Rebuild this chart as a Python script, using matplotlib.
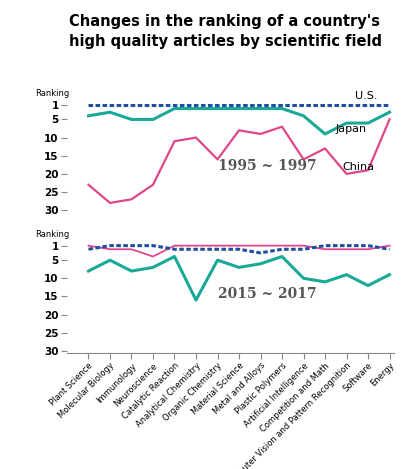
import matplotlib.pyplot as plt

fields = ['Plant Science', 'Molecular Biology', 'Immunology', 'Neuroscience',
          'Catalytic Reaction', 'Analytical Chemistry', 'Organic Chemistry',
          'Material Science', 'Metal and Alloys', 'Plastic Polymers',
          'Artificial Intelligence', 'Competition and Math',
          'Computer Vision and Pattern Recognition', 'Software', 'Energy']
us_9597 = [1] * 15
japan_9597 = [4, 3, 5, 5, 2, 2, 2, 2, 2, 2, 4, 9, 6, 6, 3]
china_9597 = [23, 28, 27, 23, 11, 10, 16, 8, 9, 7, 16, 13, 20, 19, 5]
us_1517 = [2, 1, 1, 1, 2, 2, 2, 2, 3, 2, 2, 1, 1, 1, 2]
japan_1517 = [8, 5, 8, 7, 4, 16, 5, 7, 6, 4, 10, 11, 9, 12, 9]
china_1517 = [1, 2, 2, 4, 1, 1, 1, 1, 1, 1, 1, 2, 2, 2, 1]
yticks = [1, 5, 10, 15, 20, 25, 30]

TEAL = '#1aa897'
PINK = '#e0468a'
BLUE = '#1f4fa0'

fig = plt.figure(figsize=(4.06, 4.69), dpi=100)
fig.text(0.17, 0.945, "Changes in the ranking of a country's", fontsize=10.5, weight='bold')
fig.text(0.17, 0.902, "high quality articles by scientific field", fontsize=10.5, weight='bold')

ax1 = fig.add_axes([0.165, 0.548, 0.805, 0.236])
ax2 = fig.add_axes([0.165, 0.248, 0.805, 0.236])
x = list(range(len(fields)))

for ax, us, jp, cn in [(ax1, us_9597, japan_9597, china_9597),
                       (ax2, us_1517, japan_1517, china_1517)]:
    ax.plot(x, cn, color=PINK, lw=1.6 if ax is ax1 else 1.3)
    ax.plot(x, jp, color=TEAL, lw=2.2)
    ax.plot(x, us, color=BLUE, lw=2.2, ls=(0, (1.5, 0.8)))
    ax.set_ylim(30.5, 0)
    ax.set_xlim(-1.0, 14.2)
    ax.set_yticks(yticks)
    ax.tick_params(axis='y', labelsize=7.5, length=4, color='#888888', pad=2)
    for lab in ax.get_yticklabels():
        lab.set_fontweight('bold')
    for s in ['top', 'right', 'left', 'bottom']:
        ax.spines[s].set_visible(False)
    ax.text(-1.7, -1.5, 'Ranking', fontsize=6, ha='center')

ax1.set_xticks([])
ax1.text(12.4, -0.7, 'U.S.', fontsize=8)
ax1.text(11.5, 8.5, 'Japan', fontsize=8)
ax1.text(11.8, 19, 'China', fontsize=8)
ax1.text(6.0, 19, '1995 ~ 1997', fontsize=10, weight='bold', color='#555555', family='DejaVu Serif')

ax2.text(6.0, 15.5, '2015 ~ 2017', fontsize=10, weight='bold', color='#555555', family='DejaVu Serif')
ax2.spines['bottom'].set_visible(True)
ax2.spines['bottom'].set_color('#888888')
ax2.set_xticks(x)
ax2.set_xticklabels(fields, rotation=45, ha='right', rotation_mode='anchor', fontsize=6)
ax2.tick_params(axis='x', length=4, color='#888888', pad=2)

fig.savefig('out.png', dpi=100)
